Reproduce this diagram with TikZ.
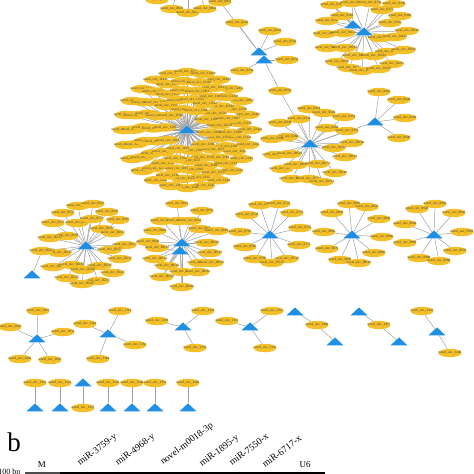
\documentclass[tikz,border=0pt]{standalone}
\usepackage{fontspec}
\setmainfont{Liberation Serif}
\usetikzlibrary{shapes.geometric, calc}
\definecolor{circgold}{HTML}{F3C02A}
\definecolor{mirblue}{HTML}{1E8FE3}
\definecolor{linkgray}{HTML}{A0A0A0}
\pgfdeclarelayer{bg}
\pgfdeclarelayer{fg}
\pgfsetlayers{bg,main,fg}
\newcommand{\circlabel}[1]{\makebox[0pt]{novel\_circ\_#1}}

\begin{document}
\begin{tikzpicture}[x=1pt, y=-1pt,
    circ/.style={ellipse, fill=circgold, minimum width=23pt, minimum height=8.5pt, inner sep=0pt, font=\fontsize{3.4}{4}\selectfont, text=black!80},
    mir/.style={isosceles triangle, shape border rotate=90, isosceles triangle stretches, minimum width=17pt, minimum height=8pt, inner sep=0pt, fill=mirblue},
    link/.style={draw=linkgray, line width=0.5pt},
    lane/.style={rotate=37, anchor=base west, inner sep=0pt, font=\fontsize{9.5}{10}\selectfont}]

    \useasboundingbox (0,0) rectangle (474,474);
    \begin{pgfonlayer}{bg}
        \fill[white] (0,0) rectangle (474,474);
    \end{pgfonlayer}
    \clip (0,0) rectangle (474,474);

    \node[mir] (hubA) at (188,-42) {};
    \begin{pgfonlayer}{fg}
        \node[mir] (hubB1) at (353,25) {};
        \node[mir] (hubB2) at (364,32) {};
        \node[mir] (hubC1) at (259,52) {};
        \node[mir] (hubC2) at (264,60) {};
        \node[mir] (hubD) at (310,144) {};
        \node[mir] (hubDx) at (375,122) {};
        \node[mir] (hubE) at (187,130) {};
        \node[mir] (hubF) at (86,246) {};
        \node[mir] (hubFx) at (32,275) {};
        \node[mir] (hubG1) at (182,243) {};
        \node[mir] (hubG2) at (180,251) {};
        \node[mir] (hubH) at (270,235) {};
        \node[mir] (hubI) at (352,235) {};
        \node[mir] (hubJ) at (434,235) {};
        \node[mir] (hubK) at (37,339) {};
        \node[mir] (hubL) at (108,334) {};
        \node[mir] (hubM) at (183,327) {};
        \node[mir] (hubN) at (250,327) {};
    \end{pgfonlayer}

    \foreach \p [count=\i] in {(157,0),(172,9),(188,13),(205,9),(220,2)} {
        \node[circ] (cA\i) at \p {\circlabel{00\i1}};
        \begin{pgfonlayer}{bg}\draw[link] (hubA) -- (cA\i);\end{pgfonlayer}
    }

    \foreach \p [count=\i] in {(332,5),(352,3),(370,3),(394,4),(327,21),(342,16),(382,10),(400,16),(390,23),(407,31),(325,34),(344,33),(380,38),(395,37),(327,48),(345,48),(387,52),(404,50),(337,62),(355,56),(374,56),(392,64),(349,68),(362,71),(379,69)} {
        \node[circ] (cB\i) at \p {\circlabel{01\i2}};
        \begin{pgfonlayer}{bg}\draw[link] (hubB2) -- (cB\i);\end{pgfonlayer}
    }
    \begin{pgfonlayer}{bg}
        \foreach \j in {1,2,5,6,11} {\draw[link] (hubB1) -- (cB\j);}
    \end{pgfonlayer}

    \node[circ] (cC1) at (270,31) {\circlabel{0231}};
    \node[circ] (cC2) at (285,42) {\circlabel{0232}};
    \node[circ] (cC3) at (287,60) {\circlabel{0233}};
    \node[circ] (cC4) at (242,71) {\circlabel{0234}};
    \node[circ] (cC5) at (237,23) {\circlabel{0235}};
    \node[circ] (cCD) at (280,91) {\circlabel{0236}};
    \begin{pgfonlayer}{bg}
        \draw[link] (hubC1) -- (cC1);
        \draw[link] (hubC1) -- (cC2);
        \draw[link] (hubC1) -- (cC5);
        \draw[link] (hubC1) -- (cA5);
        \draw[link] (hubC2) -- (cC3);
        \draw[link] (hubC2) -- (cC4);
        \draw[link] (hubC2) -- (cCD);
        \draw[link] (cCD) -- (hubD);
    \end{pgfonlayer}

    \foreach \p [count=\i] in {(309,109),(324,113),(299,119),(280,123),(344,117),(327,128),(347,131),(287,137),(272,139),(352,143),(334,148),(275,155),(290,154),(345,157),(282,169),(296,165),(318,164),(335,173),(292,179),(309,179),(322,182)} {
        \node[circ] (cD\i) at \p {\circlabel{03\i4}};
        \begin{pgfonlayer}{bg}\draw[link] (hubD) -- (cD\i);\end{pgfonlayer}
    }
    \foreach \p [count=\i] in {(379,92),(399,100),(405,118),(399,138)} {
        \node[circ] (cDx\i) at \p {\circlabel{04\i0}};
        \begin{pgfonlayer}{bg}\draw[link] (hubDx) -- (cDx\i);\end{pgfonlayer}
    }
    \begin{pgfonlayer}{bg}\draw[link] (hubDx) -- (hubD);\end{pgfonlayer}

    \foreach \rx/\ry/\cnt/\off in {63/58/24/0, 53/49/21/9, 43/40/18/4, 33/31/15/15, 22/21/10/7} {
        \foreach \k in {1,...,\cnt} {
            \pgfmathsetmacro\dx{\rx*cos(\off+360*\k/\cnt)}
            \pgfmathsetmacro\dy{\ry*sin(\off+360*\k/\cnt)}
            \node[circ] (cE\cnt-\k) at ([shift={(\dx,\dy)}]hubE.center) {\circlabel{1\cnt\k}};
            \begin{pgfonlayer}{bg}\draw[link] (hubE) -- (cE\cnt-\k);\end{pgfonlayer}
        }
    }

    \foreach \p [count=\i] in {(78,206),(93,204),(63,213),(107,212),(53,223),(77,223),(92,219),(118,220),(67,236),(102,229),(113,233),(50,238),(125,245),(60,253),(110,250),(120,259),(53,267),(72,265),(100,266),(83,270),(113,273),(67,278),(98,281),(82,284),(42,251)} {
        \node[circ] (cF\i) at \p {\circlabel{05\i7}};
        \begin{pgfonlayer}{bg}\draw[link] (hubF) -- (cF\i);\end{pgfonlayer}
    }
    \begin{pgfonlayer}{bg}\draw[link] (hubFx) -- (cF25);\end{pgfonlayer}

    \foreach \p [count=\i] in {(177,204),(202,211),(162,221),(178,221),(190,221),(155,231),(200,229),(217,231),(148,242),(207,243),(157,248),(155,259),(210,253),(167,266),(200,263),(212,263),(182,272),(198,272),(162,277),(182,287)} {
        \node[circ] (cG\i) at \p {\circlabel{06\i3}};
        \begin{pgfonlayer}{bg}\draw[link] (hubG1) -- (cG\i);\end{pgfonlayer}
    }
    \begin{pgfonlayer}{bg}
        \foreach \j in {11,12,14,17,19,20} {\draw[link] (hubG2) -- (cG\j);}
    \end{pgfonlayer}

    \foreach \p [count=\i] in {(260,205),(279,204),(292,213),(247,215),(300,228),(240,232),(299,245),(245,247),(255,259),(287,259),(272,263)} {
        \node[circ] (cH\i) at \p {\circlabel{07\i5}};
        \begin{pgfonlayer}{bg}\draw[link] (hubH) -- (cH\i);\end{pgfonlayer}
    }
    \foreach \p [count=\i] in {(349,204),(367,207),(332,213),(379,219),(324,232),(382,237),(327,249),(374,253),(340,260),(359,263)} {
        \node[circ] (cI\i) at \p {\circlabel{08\i6}};
        \begin{pgfonlayer}{bg}\draw[link] (hubI) -- (cI\i);\end{pgfonlayer}
    }
    \foreach \p [count=\i] in {(435,204),(417,209),(454,213),(405,224),(462,232),(405,243),(455,251),(419,258),(439,261)} {
        \node[circ] (cJ\i) at \p {\circlabel{09\i8}};
        \begin{pgfonlayer}{bg}\draw[link] (hubJ) -- (cJ\i);\end{pgfonlayer}
    }

    \foreach \p [count=\i] in {(38,311),(10,327),(63,332),(20,359),(50,360)} {
        \node[circ] (cK\i) at \p {\circlabel{10\i2}};
        \begin{pgfonlayer}{bg}\draw[link] (hubK) -- (cK\i);\end{pgfonlayer}
    }
    \foreach \p [count=\i] in {(120,311),(85,324),(135,345),(98,359)} {
        \node[circ] (cL\i) at \p {\circlabel{11\i4}};
        \begin{pgfonlayer}{bg}\draw[link] (hubL) -- (cL\i);\end{pgfonlayer}
    }
    \foreach \p [count=\i] in {(157,321),(203,311),(195,348)} {
        \node[circ] (cM\i) at \p {\circlabel{12\i9}};
        \begin{pgfonlayer}{bg}\draw[link] (hubM) -- (cM\i);\end{pgfonlayer}
    }
    \foreach \p [count=\i] in {(227,321),(272,311),(265,348)} {
        \node[circ] (cN\i) at \p {\circlabel{13\i1}};
        \begin{pgfonlayer}{bg}\draw[link] (hubN) -- (cN\i);\end{pgfonlayer}
    }

    \node[mir] (hubO1) at (295,312) {};
    \node[circ] (cO) at (317,325) {\circlabel{1402}};
    \node[mir] (hubO2) at (335,342) {};
    \node[mir] (hubP1) at (359,312) {};
    \node[circ] (cP) at (379,325) {\circlabel{1417}};
    \node[mir] (hubP2) at (399,342) {};
    \node[circ] (cQ1) at (422,311) {\circlabel{1433}};
    \node[mir] (hubQ) at (437,332) {};
    \node[circ] (cQ2) at (450,353) {\circlabel{1448}};
    \begin{pgfonlayer}{bg}
        \draw[link] (hubO1) -- (cO) -- (hubO2);
        \draw[link] (hubP1) -- (cP) -- (hubP2);
        \draw[link] (cQ1) -- (hubQ) -- (cQ2);
    \end{pgfonlayer}

    \foreach \x [count=\i] in {35,60,108,132,155,188} {
        \node[circ] (cR\i) at (\x,383) {\circlabel{15\i6}};
        \node[mir] (hubR\i) at (\x,408) {};
        \begin{pgfonlayer}{bg}\draw[link] (cR\i) -- (hubR\i);\end{pgfonlayer}
    }
    \node[mir] (hubR7) at (83,383) {};
    \node[circ] (cR7) at (83,408) {\circlabel{1575}};
    \begin{pgfonlayer}{bg}\draw[link] (hubR7) -- (cR7);\end{pgfonlayer}

    \node[font=\fontsize{27}{27}\selectfont] (panelb) at (14,442) {b};
    \fill[black] (25,471.5) rectangle (325,480);
    \fill[black!70] (25,471.5) rectangle (60,480);
    \node[anchor=east, font=\fontsize{8}{9}\selectfont] (ladder) at (24,473) {100 bp};
    \node[font=\fontsize{9}{10}\selectfont] (laneM) at (42,465) {M};
    \node[lane] (lane1) at (80,466) {miR-3759-y};
    \node[lane] (lane2) at (118,466) {miR-4968-y};
    \node[lane] (lane3) at (163,465) {novel-m0018-3p};
    \node[lane] (lane4) at (202,467) {miR-1895-y};
    \node[lane] (lane5) at (232,466) {miR-7550-x};
    \node[lane] (lane6) at (265,468) {miR-6717-x};
    \node[font=\fontsize{9}{10}\selectfont] (laneU) at (305,465) {U6};
\end{tikzpicture}
\end{document}
